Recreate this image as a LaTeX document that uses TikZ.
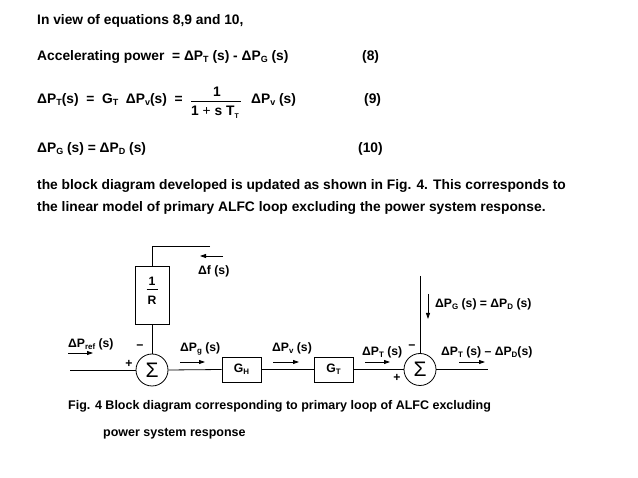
\documentclass[tikz,border=0pt]{standalone}
\usepackage{fontspec}
\setmainfont{Liberation Sans}
\usepackage{graphicx}
\usetikzlibrary{arrows.meta}
\newcommand\sbs[1]{\raisebox{-0.25ex}{\scalebox{0.65}{#1}}}
\tikzset{
  body/.style={font=\fontsize{13.8}{16}\selectfont\bfseries, anchor=base west, inner sep=0pt},
  lab/.style={font=\fontsize{12.2}{14}\selectfont\bfseries, anchor=base west, inner sep=0pt},
  capt/.style={font=\fontsize{12.5}{14}\selectfont\bfseries, anchor=base west, inner sep=0pt},
  blk/.style={draw, line width=0.8pt, inner sep=0pt, font=\fontsize{12.2}{14}\selectfont\bfseries},
  sumnode/.style={draw, circle, line width=0.8pt, minimum size=32pt, inner sep=0pt},
  wire/.style={line width=0.8pt},
  sig/.style={line width=0.8pt, -{Triangle[length=6pt,width=4pt]}},
}
\begin{document}
\begin{tikzpicture}[x=1pt,y=-1pt]
\useasboundingbox (0,0) rectangle (638,478);
% text
\node[body] (t1) at (37,25) {In view of equations 8,9 and 10,};
\node[body] (e8) at (37,61) {Accelerating power\ \ = ΔP\sbs{T} (s) - ΔP\sbs{G} (s)};
\node[body] (n8) at (362,61) {(8)};
\node[body] (e9) at (37,104) {ΔP\sbs{T}(s)\ \ =\ \ G\sbs{T}\ \ ΔP\sbs{v}(s)\ \ =};
\node[body, anchor=base] (num) at (217,97) {1};
\coordinate (fl) at (191,101);
\coordinate (fr) at (241,101);
\draw[line width=0.6pt] (fl) -- (fr);
\node[body] (den) at (191,116) {1 {\mdseries +} s T{\raisebox{-0.3ex}{\scalebox{0.5}{T}}}};
\node[body] (e9b) at (251,104) {ΔP\sbs{v} (s)};
\node[body] (n9) at (364,104) {(9)};
\node[body] (e10) at (37,153) {ΔP\sbs{G} (s) = ΔP\sbs{D} (s)};
\node[body] (n10) at (358,153) {(10)};
\node[body] (p1) at (37,190) {the block diagram developed is updated as shown in Fig. 4. This corresponds to};
\node[body] (p2) at (37,212) {the linear model of primary ALFC loop excluding the power system response.};
% diagram
\node[blk, minimum width=34pt, minimum height=58pt] (rb) at (152,295) {};
\node[lab, anchor=base] (r1) at (152,286) {1};
\draw[line width=0.6pt] ([xshift=-5.5pt]r1.south) ++(0,3) -- ++(11,0);
\node[lab, anchor=base] (r2) at (152,305) {R};
\node[sumnode] (s1) at (152,370) {\fontsize{21}{21}\selectfont Σ};
\node[blk, minimum width=39pt, minimum height=25pt] (gh) at (241.5,369.5) {G\sbs{H}};
\node[blk, minimum width=39pt, minimum height=25pt] (gt) at (333.5,369.5) {G\sbs{T}};
\node[sumnode] (s2) at (420,369.5) {\fontsize{21}{21}\selectfont Σ};
\coordinate (inL) at (70,370);
\coordinate (topR) at (210,246);
\coordinate (corner) at (152,246);
\coordinate (outR) at (488,369.5);
\coordinate (topG) at (420,276);
\draw[wire] (inL) -- (s1.west);
\draw[wire] (s1.east) -- (gh.west);
\draw[wire] (gh.east) -- (gt.west);
\draw[wire] (gt.east) -- (s2.west);
\draw[wire] (s2.east) -- (outR);
\draw[wire] (topR) -- (corner) -- (rb.north);
\draw[wire] (rb.south) -- (s1.north);
\draw[wire] (topG) -- (s2.north);
% signal arrows
\draw[sig] (68,353) -- (93,353);
\draw[sig] (180,362) -- (205,362);
\draw[sig] (273,362) -- (299,362);
\draw[sig] (365,362) -- (390,362);
\draw[sig] (459,362) -- (485,362);
\draw[sig] (223,256) -- (200,256);
\draw[sig] (428,294) -- (428,319);
% labels
\node[lab] (lref) at (68,348) {ΔP\sbs{ref} (s)};
\node[lab] (lpg) at (180,352) {ΔP\sbs{g} (s)};
\node[lab] (lpv) at (272,352) {ΔP\sbs{v} (s)};
\node[lab] (lpt) at (362,356) {ΔP\sbs{T} (s)};
\node[lab] (lout) at (441,356) {ΔP\sbs{T} (s) – ΔP\sbs{D}(s)};
\node[lab] (lpgd) at (435,308) {ΔP\sbs{G} (s) = ΔP\sbs{D} (s)};
\node[lab] (lf) at (198,275) {Δf (s)};
\node[lab, anchor=center] (p1s) at (129,364) {+};
\node[lab, anchor=center] (m1s) at (140,347) {−};
\node[lab, anchor=center] (p2s) at (397,378) {+};
\node[lab, anchor=center] (m2s) at (412,347) {−};
% caption
\node[capt] (c1) at (68,410) {Fig. 4 Block diagram corresponding to primary loop of ALFC excluding};
\node[capt] (c2) at (103,437) {power system response};
\end{tikzpicture}
\end{document}
